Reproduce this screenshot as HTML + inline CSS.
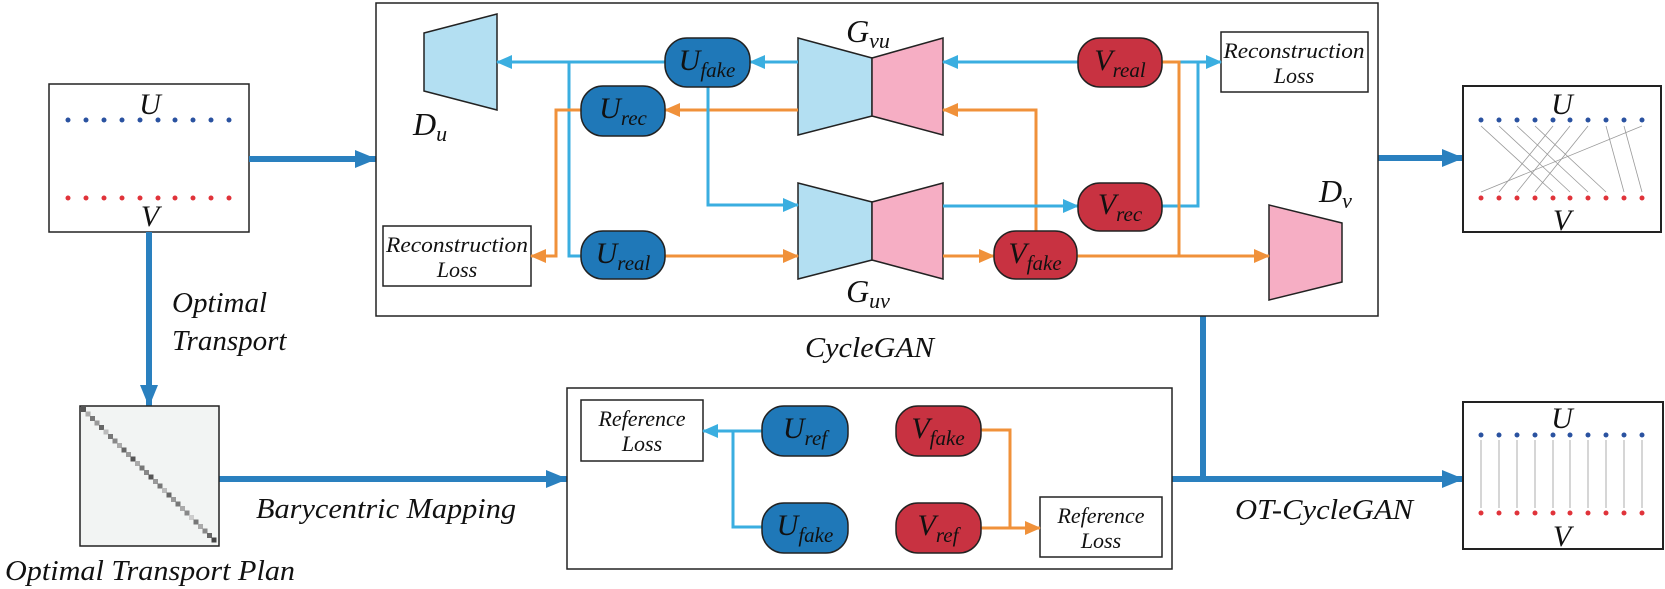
<!DOCTYPE html>
<html><head><meta charset="utf-8"><style>html,body{margin:0;padding:0;background:#fff}svg{display:block}svg text{font-family:"Liberation Serif","DejaVu Serif",serif !important;font-style:italic;fill:#111}</style></head><body>
<svg width="1665" height="589" viewBox="0 0 1665 589" xmlns="http://www.w3.org/2000/svg" font-family="Liberation Serif, DejaVu Serif, serif" font-style="italic">
<defs>
<marker id="ab" markerUnits="userSpaceOnUse" markerWidth="16" markerHeight="14" refX="15" refY="7" orient="auto"><path d="M0,0L16,7L0,14z" fill="#3aaee0"/></marker>
<marker id="ao" markerUnits="userSpaceOnUse" markerWidth="16" markerHeight="14" refX="15" refY="7" orient="auto"><path d="M0,0L16,7L0,14z" fill="#f0913a"/></marker>
<marker id="aT" markerUnits="userSpaceOnUse" markerWidth="22" markerHeight="18" refX="21" refY="9" orient="auto"><path d="M0,0L22,9L0,18z" fill="#2a80bf"/></marker>
</defs>

<rect x="49" y="84" width="200" height="148" fill="#fff" stroke="#222" stroke-width="1.5"/>
<text x="150" y="114" font-size="30" text-anchor="middle">U</text>
<text x="150" y="226" font-size="30" text-anchor="middle">V</text>
<g fill="#2a52a0">
<circle cx="68" cy="120" r="2.5"/><circle cx="86" cy="120" r="2.5"/><circle cx="104" cy="120" r="2.5"/><circle cx="122" cy="120" r="2.5"/><circle cx="140" cy="120" r="2.5"/><circle cx="158" cy="120" r="2.5"/><circle cx="175" cy="120" r="2.5"/><circle cx="193" cy="120" r="2.5"/><circle cx="211" cy="120" r="2.5"/><circle cx="229" cy="120" r="2.5"/></g>
<g fill="#e0333a">
<circle cx="68" cy="198" r="2.5"/><circle cx="86" cy="198" r="2.5"/><circle cx="104" cy="198" r="2.5"/><circle cx="122" cy="198" r="2.5"/><circle cx="140" cy="198" r="2.5"/><circle cx="158" cy="198" r="2.5"/><circle cx="175" cy="198" r="2.5"/><circle cx="193" cy="198" r="2.5"/><circle cx="211" cy="198" r="2.5"/><circle cx="229" cy="198" r="2.5"/></g>

<g stroke="#2a80bf" stroke-width="6" fill="none">
<line x1="249" y1="159" x2="376" y2="159" marker-end="url(#aT)"/>
<line x1="149" y1="232" x2="149" y2="406" marker-end="url(#aT)"/>
<line x1="219" y1="479" x2="567" y2="479" marker-end="url(#aT)"/>
<line x1="1378" y1="158" x2="1463" y2="158" marker-end="url(#aT)"/>
<line x1="1203" y1="316" x2="1203" y2="479"/>
<line x1="1172" y1="479" x2="1463" y2="479" marker-end="url(#aT)"/>
</g>

<text x="172" y="312" font-size="29">Optimal</text>
<text x="172" y="350" font-size="29">Transport</text>
<text x="256" y="518" font-size="29" textLength="260" lengthAdjust="spacingAndGlyphs">Barycentric Mapping</text>
<text x="5" y="580" font-size="29" textLength="290" lengthAdjust="spacingAndGlyphs">Optimal Transport Plan</text>
<text x="805" y="357" font-size="29" textLength="129" lengthAdjust="spacingAndGlyphs">CycleGAN</text>
<text x="1235" y="519" font-size="29" textLength="178" lengthAdjust="spacingAndGlyphs">OT-CycleGAN</text>

<rect x="80" y="406" width="139" height="140" fill="#f2f4f3" stroke="#222" stroke-width="1.5"/>
<g>
<rect x="81" y="407" width="5" height="5" fill="#555"/><rect x="85.5" y="411.5" width="5" height="5" fill="#aaa"/><rect x="90" y="416" width="5" height="5" fill="#777"/><rect x="94.5" y="420.5" width="5" height="5" fill="#999"/><rect x="99" y="425" width="5" height="5" fill="#666"/><rect x="103.5" y="429.5" width="5" height="5" fill="#bbb"/><rect x="108" y="434" width="5" height="5" fill="#777"/><rect x="112.5" y="438.5" width="5" height="5" fill="#888"/><rect x="117" y="443" width="5" height="5" fill="#aaa"/><rect x="121.5" y="447.5" width="5" height="5" fill="#666"/><rect x="126" y="452" width="5" height="5" fill="#999"/><rect x="130.5" y="456.5" width="5" height="5" fill="#555"/><rect x="135" y="461" width="5" height="5" fill="#aaa"/><rect x="139.5" y="465.5" width="5" height="5" fill="#777"/><rect x="144" y="470" width="5" height="5" fill="#888"/><rect x="148.5" y="474.5" width="5" height="5" fill="#555"/><rect x="153" y="479" width="5" height="5" fill="#999"/><rect x="157.5" y="483.5" width="5" height="5" fill="#777"/><rect x="162" y="488" width="5" height="5" fill="#bbb"/><rect x="166.5" y="492.5" width="5" height="5" fill="#666"/><rect x="171" y="497" width="5" height="5" fill="#999"/><rect x="175.5" y="501.5" width="5" height="5" fill="#777"/><rect x="180" y="506" width="5" height="5" fill="#aaa"/><rect x="184.5" y="510.5" width="5" height="5" fill="#888"/><rect x="189" y="515" width="5" height="5" fill="#ccc"/><rect x="193.5" y="519.5" width="5" height="5" fill="#777"/><rect x="198" y="524" width="5" height="5" fill="#aaa"/><rect x="202.5" y="528.5" width="5" height="5" fill="#888"/><rect x="207" y="533" width="5" height="5" fill="#666"/><rect x="211.5" y="537.5" width="5" height="5" fill="#444"/>
</g>

<rect x="376" y="3" width="1002" height="313" fill="none" stroke="#222" stroke-width="1.5"/>
<polygon points="424,33 497,14 497,110 424,91" fill="#b3dff2" stroke="#222" stroke-width="1.5"/>
<text x="413" y="135" font-size="32">D<tspan font-size="22" dy="6">u</tspan></text>
<polygon points="1269,205 1342,223 1342,282 1269,300" fill="#f6aec4" stroke="#222" stroke-width="1.5"/>
<text x="1319" y="202" font-size="32">D<tspan font-size="22" dy="6">v</tspan></text>

<polygon points="798,38 872,58 872,116 798,135" fill="#b3dff2" stroke="#222" stroke-width="1.5"/>
<polygon points="872,58 943,38 943,135 872,116" fill="#f6aec4" stroke="#222" stroke-width="1.5"/>
<polygon points="798,183 872,202 872,260 798,279" fill="#b3dff2" stroke="#222" stroke-width="1.5"/>
<polygon points="872,202 943,183 943,279 872,260" fill="#f6aec4" stroke="#222" stroke-width="1.5"/>
<text x="868" y="42" font-size="32" text-anchor="middle">G<tspan font-size="22" dy="6">vu</tspan></text>
<text x="868" y="302" font-size="32" text-anchor="middle">G<tspan font-size="22" dy="6">uv</tspan></text>

<rect x="383" y="226" width="148" height="60" fill="#fff" stroke="#222" stroke-width="1.5"/>
<text x="457" y="252" font-size="22" text-anchor="middle" textLength="142" lengthAdjust="spacingAndGlyphs">Reconstruction</text>
<text x="457" y="277" font-size="22" text-anchor="middle">Loss</text>
<rect x="1221" y="32" width="147" height="60" fill="#fff" stroke="#222" stroke-width="1.5"/>
<text x="1294" y="58" font-size="22" text-anchor="middle" textLength="141" lengthAdjust="spacingAndGlyphs">Reconstruction</text>
<text x="1294" y="83" font-size="22" text-anchor="middle">Loss</text>

<g fill="none" stroke-width="3">
<line x1="665" y1="62" x2="497" y2="62" stroke="#3aaee0" marker-end="url(#ab)"/>
<polyline points="581,256 569,256 569,62" stroke="#3aaee0"/>
<polyline points="581,110 556,110 556,256 531,256" stroke="#f0913a" marker-end="url(#ao)"/>
<line x1="798" y1="62" x2="750" y2="62" stroke="#3aaee0" marker-end="url(#ab)"/>
<line x1="798" y1="110" x2="665" y2="110" stroke="#f0913a" marker-end="url(#ao)"/>
<polyline points="708,87 708,205 798,205" stroke="#3aaee0" marker-end="url(#ab)"/>
<line x1="665" y1="256" x2="798" y2="256" stroke="#f0913a" marker-end="url(#ao)"/>
<line x1="1078" y1="62" x2="943" y2="62" stroke="#3aaee0" marker-end="url(#ab)"/>
<polyline points="1036,231 1036,110 943,110" stroke="#f0913a" marker-end="url(#ao)"/>
<line x1="943" y1="206" x2="1078" y2="206" stroke="#3aaee0" marker-end="url(#ab)"/>
<line x1="943" y1="256" x2="994" y2="256" stroke="#f0913a" marker-end="url(#ao)"/>
<line x1="1077" y1="256" x2="1269" y2="256" stroke="#f0913a" marker-end="url(#ao)"/>
<polyline points="1162,206 1198,206 1198,62" stroke="#3aaee0"/>
<line x1="1179" y1="62" x2="1221" y2="62" stroke="#3aaee0" marker-end="url(#ab)"/>
<polyline points="1162,62 1179,62 1179,256" stroke="#f0913a"/>
</g>

<g stroke="#222" stroke-width="1.5">
<rect x="665" y="38" width="85" height="49" rx="22" fill="#1f78b8"/>
<rect x="581" y="86" width="84" height="50" rx="22" fill="#1f78b8"/>
<rect x="581" y="231" width="84" height="48" rx="22" fill="#1f78b8"/>
<rect x="1078" y="38" width="84" height="49" rx="22" fill="#c83241"/>
<rect x="1078" y="183" width="84" height="48" rx="22" fill="#c83241"/>
<rect x="994" y="231" width="83" height="48" rx="22" fill="#c83241"/>
</g>
<g font-size="30">
<text x="707" y="70" text-anchor="middle">U<tspan font-size="21" dy="7">fake</tspan></text>
<text x="623" y="118" text-anchor="middle">U<tspan font-size="21" dy="7">rec</tspan></text>
<text x="623" y="263" text-anchor="middle">U<tspan font-size="21" dy="7">real</tspan></text>
<text x="1120" y="70" text-anchor="middle">V<tspan font-size="21" dy="7">real</tspan></text>
<text x="1120" y="214" text-anchor="middle">V<tspan font-size="21" dy="7">rec</tspan></text>
<text x="1035" y="263" text-anchor="middle">V<tspan font-size="21" dy="7">fake</tspan></text>
</g>

<rect x="567" y="388" width="605" height="181" fill="none" stroke="#222" stroke-width="1.5"/>
<rect x="581" y="400" width="122" height="61" fill="#fff" stroke="#222" stroke-width="1.5"/>
<text x="642" y="426" font-size="22" text-anchor="middle">Reference</text>
<text x="642" y="451" font-size="22" text-anchor="middle">Loss</text>
<rect x="1040" y="497" width="122" height="60" fill="#fff" stroke="#222" stroke-width="1.5"/>
<text x="1101" y="523" font-size="22" text-anchor="middle">Reference</text>
<text x="1101" y="548" font-size="22" text-anchor="middle">Loss</text>
<g fill="none" stroke-width="3">
<line x1="762" y1="431" x2="703" y2="431" stroke="#3aaee0" marker-end="url(#ab)"/>
<polyline points="762,527 733,527 733,431" stroke="#3aaee0"/>
<polyline points="981,430 1010,430 1010,528" stroke="#f0913a"/>
<line x1="981" y1="528" x2="1040" y2="528" stroke="#f0913a" marker-end="url(#ao)"/>
</g>
<g stroke="#222" stroke-width="1.5">
<rect x="762" y="406" width="86" height="50" rx="22" fill="#1f78b8"/>
<rect x="762" y="503" width="86" height="50" rx="22" fill="#1f78b8"/>
<rect x="896" y="406" width="85" height="50" rx="22" fill="#c83241"/>
<rect x="896" y="503" width="85" height="50" rx="22" fill="#c83241"/>
</g>
<g font-size="30">
<text x="805" y="438" text-anchor="middle">U<tspan font-size="21" dy="7">ref</tspan></text>
<text x="805" y="535" text-anchor="middle">U<tspan font-size="21" dy="7">fake</tspan></text>
<text x="938" y="438" text-anchor="middle">V<tspan font-size="21" dy="7">fake</tspan></text>
<text x="938" y="535" text-anchor="middle">V<tspan font-size="21" dy="7">ref</tspan></text>
</g>

<rect x="1463" y="86" width="198" height="146" fill="#fff" stroke="#222" stroke-width="2"/>
<text x="1562" y="114" font-size="30" text-anchor="middle">U</text>
<text x="1562" y="230" font-size="30" text-anchor="middle">V</text>
<g stroke="#999" stroke-width="0.8">
<line x1="1481" y1="126" x2="1553" y2="192"/><line x1="1499" y1="126" x2="1570" y2="192"/><line x1="1517" y1="126" x2="1588" y2="192"/><line x1="1535" y1="126" x2="1606" y2="192"/>
<line x1="1553" y1="126" x2="1499" y2="192"/><line x1="1570" y1="126" x2="1517" y2="192"/><line x1="1588" y1="126" x2="1535" y2="192"/>
<line x1="1606" y1="126" x2="1624" y2="192"/><line x1="1624" y1="126" x2="1642" y2="192"/><line x1="1642" y1="126" x2="1481" y2="192"/>
</g>
<g fill="#2a52a0">
<circle cx="1481" cy="120" r="2.5"/><circle cx="1499" cy="120" r="2.5"/><circle cx="1517" cy="120" r="2.5"/><circle cx="1535" cy="120" r="2.5"/><circle cx="1553" cy="120" r="2.5"/><circle cx="1570" cy="120" r="2.5"/><circle cx="1588" cy="120" r="2.5"/><circle cx="1606" cy="120" r="2.5"/><circle cx="1624" cy="120" r="2.5"/><circle cx="1642" cy="120" r="2.5"/></g>
<g fill="#e0333a">
<circle cx="1481" cy="198" r="2.5"/><circle cx="1499" cy="198" r="2.5"/><circle cx="1517" cy="198" r="2.5"/><circle cx="1535" cy="198" r="2.5"/><circle cx="1553" cy="198" r="2.5"/><circle cx="1570" cy="198" r="2.5"/><circle cx="1588" cy="198" r="2.5"/><circle cx="1606" cy="198" r="2.5"/><circle cx="1624" cy="198" r="2.5"/><circle cx="1642" cy="198" r="2.5"/></g>

<rect x="1463" y="402" width="200" height="147" fill="#fff" stroke="#222" stroke-width="2"/>
<text x="1562" y="428" font-size="30" text-anchor="middle">U</text>
<text x="1562" y="546" font-size="30" text-anchor="middle">V</text>
<g stroke="#999" stroke-width="0.8">
<line x1="1481" y1="440" x2="1481" y2="508"/><line x1="1499" y1="440" x2="1499" y2="508"/><line x1="1517" y1="440" x2="1517" y2="508"/><line x1="1535" y1="440" x2="1535" y2="508"/><line x1="1553" y1="440" x2="1553" y2="508"/><line x1="1570" y1="440" x2="1570" y2="508"/><line x1="1588" y1="440" x2="1588" y2="508"/><line x1="1606" y1="440" x2="1606" y2="508"/><line x1="1624" y1="440" x2="1624" y2="508"/><line x1="1642" y1="440" x2="1642" y2="508"/>
</g>
<g fill="#2a52a0">
<circle cx="1481" cy="435" r="2.5"/><circle cx="1499" cy="435" r="2.5"/><circle cx="1517" cy="435" r="2.5"/><circle cx="1535" cy="435" r="2.5"/><circle cx="1553" cy="435" r="2.5"/><circle cx="1570" cy="435" r="2.5"/><circle cx="1588" cy="435" r="2.5"/><circle cx="1606" cy="435" r="2.5"/><circle cx="1624" cy="435" r="2.5"/><circle cx="1642" cy="435" r="2.5"/></g>
<g fill="#e0333a">
<circle cx="1481" cy="513" r="2.5"/><circle cx="1499" cy="513" r="2.5"/><circle cx="1517" cy="513" r="2.5"/><circle cx="1535" cy="513" r="2.5"/><circle cx="1553" cy="513" r="2.5"/><circle cx="1570" cy="513" r="2.5"/><circle cx="1588" cy="513" r="2.5"/><circle cx="1606" cy="513" r="2.5"/><circle cx="1624" cy="513" r="2.5"/><circle cx="1642" cy="513" r="2.5"/></g>
</svg>
</body></html>
